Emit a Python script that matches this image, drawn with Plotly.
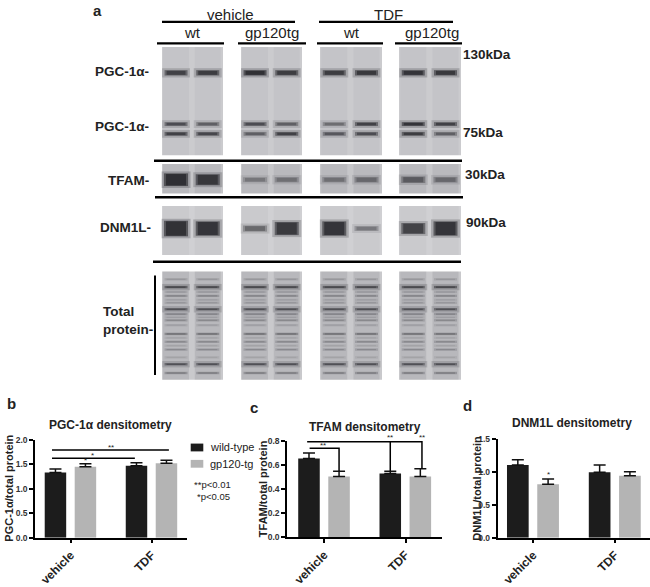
import plotly.graph_objects as go

W, H = 650, 587


def px(x):
    return x / W


def py(y):
    return 1 - y / H


# ---------------- data ----------------
treatments = ["vehicle", "TDF"]
genotypes = ["wild-type", "gp120-tg"]

pgc_wt = [1.33, 1.47]
pgc_wt_err = [0.07, 0.06]
pgc_gp = [1.45, 1.52]
pgc_gp_err = [0.06, 0.06]

tfam_wt = [0.655, 0.53]
tfam_wt_err = [0.045, 0.02]
tfam_gp = [0.505, 0.505]
tfam_gp_err = [0.045, 0.065]

dnm_wt = [1.10, 0.99]
dnm_wt_err = [0.08, 0.11]
dnm_gp = [0.81, 0.94]
dnm_gp_err = [0.08, 0.06]

pgc_ticks = [0.0, 0.5, 1.0, 1.5, 2.0]
tfam_ticks = [0.0, 0.2, 0.4, 0.6, 0.8]
dnm_ticks = [0.0, 0.5, 1.0, 1.5]

# western blot band darkness per lane (veh-wt x2, veh-gp x2, TDF-wt x2, TDF-gp x2)
blot_groups = ["wt", "gp120tg", "wt", "gp120tg"]
pgc_upper = [0.80, 0.85, 1.00, 0.85, 0.85, 0.90, 0.95, 0.90]
pgc_lower_a = [0.70, 0.55, 0.70, 0.55, 0.45, 0.80, 0.95, 0.80]
pgc_lower_b = [0.80, 0.75, 0.55, 0.80, 0.60, 0.70, 0.85, 0.55]
tfam_band = [1.00, 0.90, 0.35, 0.40, 0.40, 0.45, 0.55, 0.45]
dnm1l_band = [1.00, 0.95, 0.50, 0.90, 0.95, 0.40, 0.80, 0.95]
total_strength = [0.20, 0.80, 0.20, 0.35, 0.15, 0.20, 0.70, 0.35, 0.15, 0.30, 0.15,
                  0.50, 0.12, 0.30, 0.12, 0.28, 0.12, 0.70, 0.40]

# ---------------- layout constants ----------------
BLACK = "#1c1c1c"
GRAY = "#b4b4b4"
FONT = "Liberation Sans, Arial, sans-serif"

panel_x = [(162, 223), (241, 302), (320, 382), (399, 461)]
lane_frac = [0.23, 0.75]
pgc_y = (43, 154)
tfam_y = (163, 193)
dnm_y = (206, 256)
tot_y = (273, 384)
total_rows_y = [281, 289, 294, 298, 302, 305, 311.7, 316.7, 320, 323, 328,
                337, 341, 345, 349, 353, 361, 368, 377]

shapes = []
annotations = []


def rect(x0, y0, x1, y1, color):
    shapes.append(dict(type="rect", xref="paper", yref="paper",
                       x0=px(x0), x1=px(x1), y0=py(y1), y1=py(y0),
                       fillcolor=color, line=dict(width=0), layer="above"))


def hline(x0, x1, y, w=2.5):
    shapes.append(dict(type="line", xref="paper", yref="paper",
                       x0=px(x0), x1=px(x1), y0=py(y), y1=py(y),
                       line=dict(color="black", width=w), layer="above"))


def band(cx, cy, w, h, d, glow=True):
    c = lambda a: f"rgba(25,25,30,{a:.3f})"
    if glow:
        rect(cx - w / 2 - 2.5, cy - h / 2 - 2, cx + w / 2 + 2.5, cy + h / 2 + 2, c(0.22 * d))
    rect(cx - w / 2, cy - h / 2, cx + w / 2, cy + h / 2, c(0.55 * d))
    rect(cx - w / 2 + 2, cy - h / 2 + 0.7, cx + w / 2 - 2, cy + h / 2 - 0.7, c(0.6 * d))


def lane_centers():
    out = []
    for (x0, x1) in panel_x:
        for f in lane_frac:
            out.append(x0 + f * (x1 - x0))
    return out


lanes = lane_centers()

# panel backgrounds
for (x0, x1) in panel_x:
    rect(x0, pgc_y[0], x1, pgc_y[1], "#cbcbce")
    rect(x0, tfam_y[0], x1, tfam_y[1], "#c6c6c9")
    rect(x0, dnm_y[0], x1, dnm_y[1], "#d0d0d3")
    rect(x0, tot_y[0], x1, tot_y[1], "#c9c9cc")

for i, cx in enumerate(lanes):
    # faint lane streaks
    rect(cx - 13, pgc_y[0], cx + 13, pgc_y[1], "rgba(40,40,45,0.035)")
    rect(cx - 13, tfam_y[0], cx + 13, tfam_y[1], "rgba(40,40,45,0.08)")
    rect(cx - 13, dnm_y[0], cx + 13, dnm_y[1], "rgba(40,40,45,0.03)")
    rect(cx - 13, tot_y[0], cx + 13, tot_y[1], "rgba(40,40,45,0.10)")
    band(cx, 69.5, 23, 5.5, pgc_upper[i])
    band(cx, 122, 23, 4, pgc_lower_a[i])
    band(cx, 132, 23, 4, pgc_lower_b[i])
    band(cx, 179, 24, 4 + 9 * tfam_band[i] ** 2, tfam_band[i])
    band(cx, 229, 24, 3 + 13 * dnm1l_band[i] ** 2, dnm1l_band[i])
    for yy, s in zip(total_rows_y, total_strength):
        band(cx, yy, 23, 2.5, s, glow=s > 0.5)

# separators and header lines
hline(154, 462, 159.5)
hline(155, 463, 197)
hline(153, 461, 263)
shapes.append(dict(type="line", xref="paper", yref="paper",
                   x0=px(155), x1=px(155), y0=py(277), y1=py(379),
                   line=dict(color="black", width=2), layer="above"))
hline(162, 295, 17.3, 2.2)
hline(319, 453, 17.3, 2.2)
for (a, b) in [(157, 224), (238, 306), (317, 383), (395, 462)]:
    hline(a, b, 39.3, 2.2)


def txt(x, y, s, size, bold=False, anchor="center", color="#222", angle=0, ref=("paper", "paper")):
    annotations.append(dict(
        x=px(x) if ref[0] == "paper" else x, y=py(y) if ref[1] == "paper" else y,
        xref=ref[0], yref=ref[1], text=s, showarrow=False,
        xanchor=anchor, yanchor="middle", textangle=angle,
        font=dict(family=FONT, size=size, color=color, weight="bold" if bold else "normal")))


txt(97.5, 6, "a", 15, True)
txt(230, 9.5, "vehicle", 15)
txt(388, 9.5, "TDF", 15)
for cx, g in zip([192.7, 271.7, 351.7, 431.7], blot_groups):
    txt(cx, 28.5, g, 15)
txt(151, 68.3, "PGC-1α-", 13.5, True, "right")
txt(151, 124, "PGC-1α-", 13.5, True, "right")
txt(151, 179.3, "TFAM-", 13.5, True, "right")
txt(153, 228.3, "DNM1L-", 13.5, True, "right")
txt(101, 314, "Total", 13.5, True, "left")
txt(101, 332, "protein-", 13.5, True, "left")
txt(461, 50.7, "130kDa", 13.5, True, "left")
txt(461, 131, "75kDa", 13.5, True, "left")
txt(463, 173.3, "30kDa", 13.5, True, "left")
txt(464, 222.7, "90kDa", 13.5, True, "left")

# panel letters, titles, y titles
txt(11, 408, "b", 15, True)
txt(254, 412, "c", 15, True)
txt(467, 410, "d", 15, True)
txt(110, 430, "PGC-1α densitometry", 12, True)
txt(365, 432, "TFAM densitometry", 12, True)
txt(572, 428, "DNM1L densitometry", 12, True)
txt(9.5, 495, "PGC-1α/total protein", 11, True, angle=-90)
txt(263, 496, "TFAM/total protein", 11, True, angle=-90)
txt(477.5, 495, "DNM1L/total protein", 11, True, angle=-90)

# custom legend
rect(190.7, 449.3, 203.3, 457.3, BLACK)
rect(190.7, 466, 203.3, 474, GRAY)
txt(208, 453.3, genotypes[0], 11, anchor="left")
txt(208, 470, genotypes[1], 11, anchor="left")
txt(191.5, 491.5, "**p<0.01", 9.5, anchor="left")
txt(195, 503, "*p<0.05", 9.5, anchor="left")

# stars above the top TFAM bracket (just above the plotted range)
txt(390, 443.5, "**", 8)
txt(422, 443.5, "**", 8)

# ---------------- bar charts ----------------
BW = 0.265
OFF_WT = -0.32
OFF_GP = 0.05
C_WT = OFF_WT + BW / 2
C_GP = OFF_GP + BW / 2

fig = go.Figure()


def add_bars(xa, ya, wt, wt_e, gp, gp_e):
    for vals, errs, off, col, name in [(wt, wt_e, OFF_WT, BLACK, genotypes[0]),
                                        (gp, gp_e, OFF_GP, GRAY, genotypes[1])]:
        fig.add_trace(go.Bar(
            x=[0, 1], y=vals, width=BW, offset=off, name=name,
            marker=dict(color=col, line=dict(width=0)),
            error_y=dict(type="data", array=errs, arrayminus=[0, 0], symmetric=False,
                         color="#111", thickness=1.5, width=6),
            xaxis=xa, yaxis=ya, showlegend=False))


def sig_line(xa, ya, xs, ys):
    fig.add_trace(go.Scatter(x=xs, y=ys, mode="lines", line=dict(color="black", width=1.5),
                             xaxis=xa, yaxis=ya, showlegend=False, hoverinfo="skip"))


add_bars("x", "y", pgc_wt, pgc_wt_err, pgc_gp, pgc_gp_err)
add_bars("x2", "y2", tfam_wt, tfam_wt_err, tfam_gp, tfam_gp_err)
add_bars("x3", "y3", dnm_wt, dnm_wt_err, dnm_gp, dnm_gp_err)

# significance (b)
sig_line("x", "y", [-0.23, 1 + C_GP + 0.03], [1.79, 1.79])
sig_line("x", "y", [-0.23, 1 + C_WT - 0.02], [1.62, 1.62])
txt(0.5, 1.85, "**", 8, ref=("x", "y"))
txt(0.27, 1.68, "*", 8, ref=("x", "y"))
txt(C_GP, 1.575, "*", 8, ref=("x", "y"))
# significance (c)
top_c = 0.795
sig_line("x2", "y2", [-0.21, 1 + C_GP + 0.02, 1 + C_GP + 0.02], [top_c, top_c, tfam_gp[1] + tfam_gp_err[1]])
sig_line("x2", "y2", [1 + C_WT, 1 + C_WT], [top_c, tfam_wt[1] + tfam_wt_err[1]])
sig_line("x2", "y2", [-0.18, C_GP, C_GP], [0.74, 0.74, tfam_gp[0] + tfam_gp_err[0]])
txt(-0.015, 0.765, "**", 8, ref=("x2", "y2"))
# significance (d)
txt(C_GP, 0.95, "*", 8, ref=("x3", "y3"))

axis_common = dict(showline=True, linecolor="black", linewidth=1.5, ticks="outside",
                   ticklen=4, tickwidth=1.5, tickcolor="black", showgrid=False, zeroline=False)
xfont = dict(family=FONT, size=12, color="#222", weight="bold")
yfont = dict(family=FONT, size=8.5, color="#333", weight="bold")


def xax(dom, rng, anchor):
    return dict(domain=[px(dom[0]), px(dom[1])], range=rng, anchor=anchor,
                tickvals=[0, 1], ticktext=treatments, tickangle=-45, tickfont=xfont, **axis_common)


def yax(dom, rng, ticks, anchor):
    return dict(domain=[py(dom[1]), py(dom[0])], range=rng, anchor=anchor,
                tickvals=ticks, tickformat=".1f", tickfont=yfont, **axis_common)


fig.update_layout(
    width=W, height=H, margin=dict(l=0, r=0, t=0, b=0),
    paper_bgcolor="white", plot_bgcolor="rgba(0,0,0,0)",
    barmode="overlay", showlegend=False,
    xaxis=xax((35, 187), [-0.44, 1.436], "y"),
    yaxis=yax((445.3, 545.7), [0, 2.0], pgc_ticks, "x"),
    xaxis2=xax((287, 442), [-0.458, 1.449], "y2"),
    yaxis2=yax((446.7, 545.5), [0, 0.8], tfam_ticks, "x2"),
    xaxis3=xax((497.5, 650), [-0.436, 1.428], "y3"),
    yaxis3=yax((444.3, 545.7), [0, 1.5], dnm_ticks, "x3"),
    shapes=shapes, annotations=annotations,
    font=dict(family=FONT),
)

# remove the browser's default 8px page margin so the figure sits at the window origin
fig.write_html("out.html", config={"displayModeBar": False},
               post_script="document.body.style.margin='0';")
